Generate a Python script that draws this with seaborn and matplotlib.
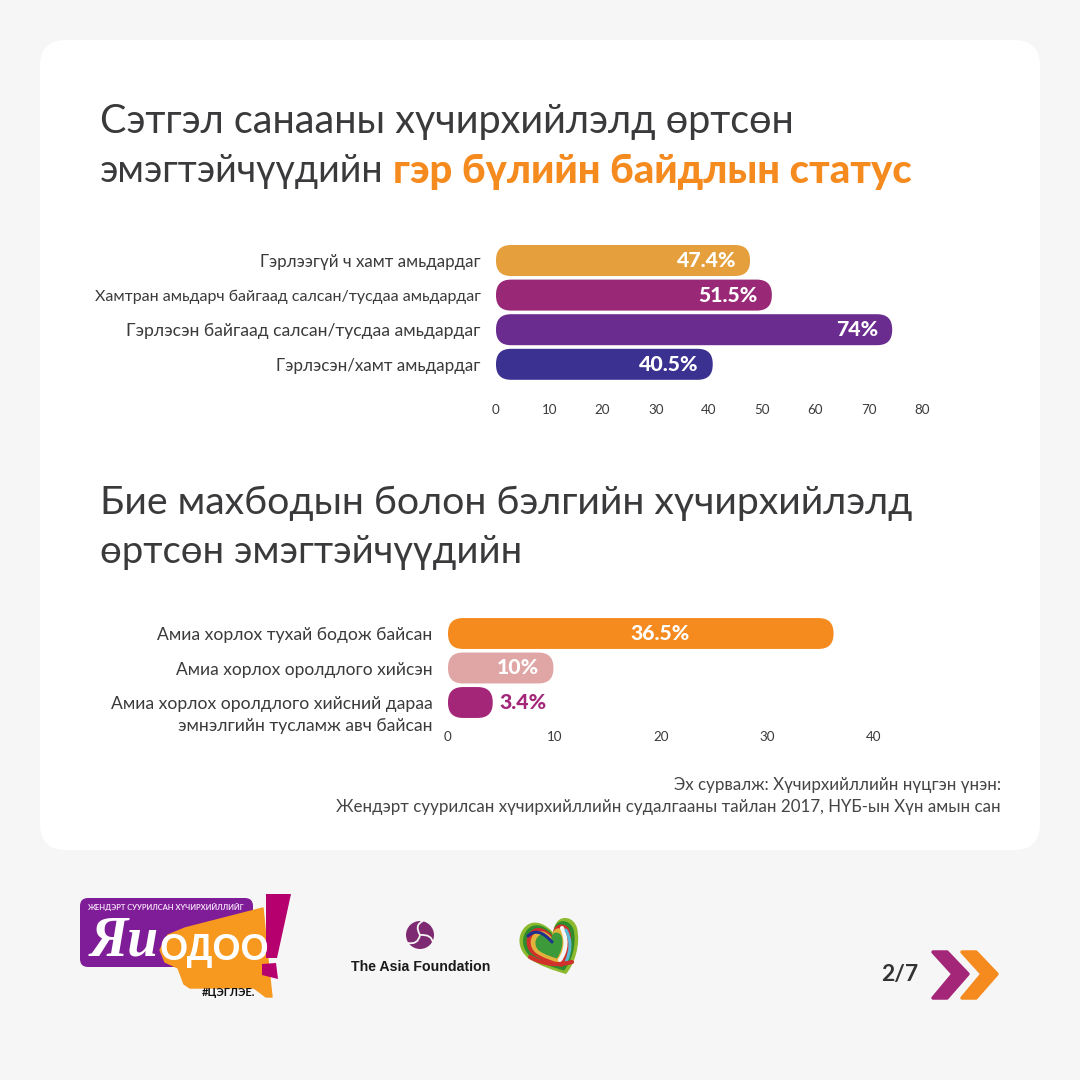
import matplotlib
matplotlib.use("Agg")
import matplotlib.pyplot as plt
import pandas as pd
import seaborn as sns
from matplotlib.patches import Circle, FancyBboxPatch, PathPatch, Polygon
from matplotlib.path import Path

# top chart
marital_labels = ["Гэрлээгүй ч хамт амьдардаг",
                  "Хамтран амьдарч байгаад салсан/тусдаа амьдардаг",
                  "Гэрлэсэн байгаад салсан/тусдаа амьдардаг",
                  "Гэрлэсэн/хамт амьдардаг"]
marital_bars = [47.7, 51.8, 74.4, 40.7]
marital_text = ["47.4%", "51.5%", "74%", "40.5%"]
marital_colors = ["#E59F3C", "#992876", "#6B2C8F", "#3B3191"]
marital_ticks = [0, 10, 20, 30, 40, 50, 60, 70, 80]

# bottom chart
suicide_labels = ["Амиа хорлох тухай бодож байсан",
                  "Амиа хорлох оролдлого хийсэн",
                  "Амиа хорлох оролдлого хийсний дараа\nэмнэлгийн тусламж авч байсан"]
suicide_bars = [36.2, 9.9, 4.2]
suicide_text = ["36.5%", "10%", "3.4%"]
suicide_colors = ["#F58A1F", "#E0A5A5", "#A32679"]
suicide_ticks = [0, 10, 20, 30, 40]

DARK = "#3A3A3C"
ORANGE = "#F58A1F"
FONT = ["Lato", "DejaVu Sans"]


def px_axes(fig, left, top, right, bottom):
    return fig.add_axes([left / 1080, 1 - bottom / 1080,
                         (right - left) / 1080, (bottom - top) / 1080])


def round_bars(ax, fig, radius):
    # swap seaborn's square bars for rounded ones of the same size
    box = ax.get_window_extent(fig.canvas.get_renderer())
    x0, x1 = ax.get_xlim()
    y0, y1 = ax.get_ylim()
    px_x = box.width / abs(x1 - x0)
    px_y = box.height / abs(y1 - y0)
    for bar in list(ax.patches):
        rounded = FancyBboxPatch(
            (bar.get_x(), bar.get_y()), bar.get_width(), bar.get_height(),
            boxstyle=f"round,pad=0,rounding_size={radius / px_x}",
            mutation_aspect=px_x / px_y,
            facecolor=bar.get_facecolor(), edgecolor="none")
        bar.remove()
        ax.add_patch(rounded)


def bar_chart(fig, rect, labels, bars, colors, ticks, xmax, pad, label_sizes):
    ax = px_axes(fig, *rect)
    df = pd.DataFrame({"label": labels, "value": bars})
    sns.barplot(data=df, y="label", x="value", hue="label", palette=colors,
                legend=False, width=0.896, saturation=1, ax=ax)
    ax.set_xlim(0, xmax)
    ax.set_ylim(len(labels) - 0.5, -0.5)
    ax.set_xticks(ticks)
    ax.set_xlabel("")
    ax.set_ylabel("")
    ax.patch.set_alpha(0)
    sns.despine(ax=ax, left=True, bottom=True)
    ax.tick_params(axis="both", length=0)
    ax.tick_params(axis="x", pad=pad, labelsize=9.6, labelcolor=DARK)
    ax.tick_params(axis="y", pad=11, labelcolor=DARK)
    for lab, size in zip(ax.get_yticklabels(), label_sizes):
        lab.set_fontsize(size)
    round_bars(ax, fig, 15)
    return ax


def draw_logo(bg):
    bg.add_patch(FancyBboxPatch((86, 904), 161, 57,
                                boxstyle="round,pad=6,rounding_size=8",
                                fc="#7F1D99", ec="none"))
    bg.add_patch(Polygon([(263, 908), (185, 928), (168, 935), (160, 950),
                          (165, 962), (178, 968), (184, 984), (190, 988),
                          (254, 988), (266, 997), (272, 997), (268, 960)],
                         fc="#F7981F", ec="#F7981F", lw=1, joinstyle="round"))
    bg.add_patch(Polygon([(266, 894), (291, 894), (277, 958), (266, 958)],
                         fc="#B5006E", ec="none"))
    bg.add_patch(Polygon([(262, 964), (276, 963), (278, 979), (262, 975)],
                         fc="#B5006E", ec="none"))
    bg.text(165, 907, "ЖЕНДЭРТ СУУРИЛСАН ХҮЧИРХИЙЛЛИЙГ", color="#F3DDF5",
            fontsize=5.4, fontweight="bold", ha="center", va="center")
    bg.text(124, 942, "Яи", color="white", fontsize=40, ha="center",
            va="center", style="italic", fontweight="bold",
            family="Liberation Serif")
    bg.text(214, 950, "ОДОО", color="white", fontsize=26, fontweight="bold",
            ha="center", va="center", family="Liberation Sans")
    bg.text(229, 993, "#ЦЭГЛЭЕ.", color="#111111", fontsize=8,
            fontweight="bold", ha="center", va="center")


def draw_foundation(bg):
    bg.add_patch(Circle((420, 935), 14, fc="#7E2A72", ec="none"))
    for curve in ([(420, 935), (414, 925), (423, 921)],
                  [(420, 935), (432, 934), (433, 943)],
                  [(420, 935), (418, 945), (408, 943)]):
        bg.add_patch(PathPatch(Path(curve, [Path.MOVETO, Path.CURVE3, Path.CURVE3]),
                               fc="none", ec="#F6F6F6", lw=1.3))
    bg.text(420.5, 967, "The Asia Foundation", color="#1A1A1A", fontsize=10.2,
            fontweight="bold", ha="center", va="center",
            family="Liberation Sans")


def heart_path(scale):
    cx, cy = 549, 945
    pts = [(555, 935), (548, 925), (535, 918), (526, 926),
           (516, 935), (518, 950), (528, 958),
           (540, 966), (555, 971), (566, 974),
           (574, 965), (581, 945), (577, 928),
           (574, 917), (562, 915), (557, 922),
           (553, 927), (554, 931), (555, 935)]
    codes = [Path.MOVETO] + [Path.CURVE4] * 18
    return Path([(cx + (x - cx) * scale, cy + (y - cy) * scale) for x, y in pts], codes)


def draw_heart(bg):
    for scale, color in ((1.0, "#8DB92E"), (0.88, "#2E8B2E"), (0.76, "#D2302A"),
                         (0.62, "#E2B23C"), (0.46, "#3C9A3A")):
        bg.add_patch(PathPatch(heart_path(scale), fc=color, ec="none"))
    strokes = [([(562, 928), (570, 945), (560, 960)], "#F3F6F5", 3.0),
               ([(566, 930), (574, 945), (566, 962)], "#5BB8D8", 2.2),
               ([(528, 936), (538, 926), (552, 942)], "#1F2F8F", 2.2),
               ([(530, 957), (550, 968), (572, 962)], "#D2302A", 3.0)]
    for curve, color, lw in strokes:
        bg.add_patch(PathPatch(Path(curve, [Path.MOVETO, Path.CURVE3, Path.CURVE3]),
                               fc="none", ec=color, lw=lw, capstyle="round"))


def draw_chevrons(bg):
    shape = [(933, 952), (947, 952), (968, 974), (947, 998), (933, 998), (953, 974)]
    for shift, color in ((0, "#A32679"), (29, ORANGE)):
        bg.add_patch(Polygon([(x + shift, y) for x, y in shape], fc=color,
                             ec=color, lw=2.5, joinstyle="round"))


def main():
    sns.set_theme(style="white")
    plt.rcParams["font.family"] = FONT

    fig = plt.figure(figsize=(10.8, 10.8), dpi=100, facecolor="#F6F6F6")
    fig.canvas.draw()

    bg = px_axes(fig, 0, 0, 1080, 1080)
    bg.set_xlim(0, 1080)
    bg.set_ylim(1080, 0)
    bg.axis("off")
    bg.add_patch(FancyBboxPatch((40, 40), 1000, 810,
                                boxstyle="round,pad=0,rounding_size=26",
                                fc="white", ec="none"))

    title = dict(color=DARK, va="center", ha="left")
    bg.text(100, 122, "Сэтгэл санааны хүчирхийлэлд өртсөн", fontsize=28.5, **title)
    bg.text(100, 171, "эмэгтэйчүүдийн", fontsize=27.2, **title)
    bg.text(393, 171, "гэр бүлийн байдлын статус", color=ORANGE, fontsize=28.8,
            fontweight=900, va="center", ha="left")
    bg.text(100, 503, "Бие махбодын болон бэлгийн хүчирхийлэлд", fontsize=28.3, **title)
    bg.text(100, 552, "өртсөн эмэгтэйчүүдийн", fontsize=27.5, **title)

    ax1 = bar_chart(fig, (496, 243.2, 922, 381.6), marital_labels, marital_bars,
                    marital_colors, marital_ticks, 80, 16.4, [12.2, 11.55, 12.6, 12.25])
    value = dict(textcoords="offset points", fontsize=15.3, fontweight=900, va="center")
    for i, (bar, text) in enumerate(zip(marital_bars, marital_text)):
        ax1.annotate(text, (bar, i), xytext=(-10, 0), color="white", ha="right", **value)

    ax2 = bar_chart(fig, (448, 616.25, 874, 719.75), suicide_labels, suicide_bars,
                    suicide_colors, suicide_ticks, 40, 8, [12.6, 12.5, 12.6])
    ax2.annotate(suicide_text[0], (suicide_bars[0], 0), xytext=(-124.6, 0),
                 color="white", ha="center", **value)
    ax2.annotate(suicide_text[1], (suicide_bars[1], 1), xytext=(-10.5, 0),
                 color="white", ha="right", **value)
    ax2.annotate(suicide_text[2], (suicide_bars[2], 2), xytext=(5, 0),
                 color="#A32679", ha="left", **value)

    # two line label starts level with its bar
    long_label = ax2.get_yticklabels()[2]
    long_label.set_verticalalignment("top")
    long_label.set_transform(long_label.get_transform()
                             + matplotlib.transforms.Affine2D().translate(0, 7))
    long_label.set_linespacing(1.5)

    src = dict(color="#444444", fontsize=12.2, ha="right", va="center")
    bg.text(1001, 785, "Эх сурвалж: Хүчирхийллийн нүцгэн үнэн:", **src)
    bg.text(1001, 807, "Жендэрт суурилсан хүчирхийллийн судалгааны тайлан 2017, "
                       "НҮБ-ын Хүн амын сан", **src)

    draw_logo(bg)
    draw_foundation(bg)
    draw_heart(bg)
    draw_chevrons(bg)
    bg.text(900, 974, "2/7", color="#333333", fontsize=16.5, fontweight="bold",
            ha="center", va="center")

    plt.savefig("out.png", dpi=100, facecolor=fig.get_facecolor())


if __name__ == "__main__":
    main()
